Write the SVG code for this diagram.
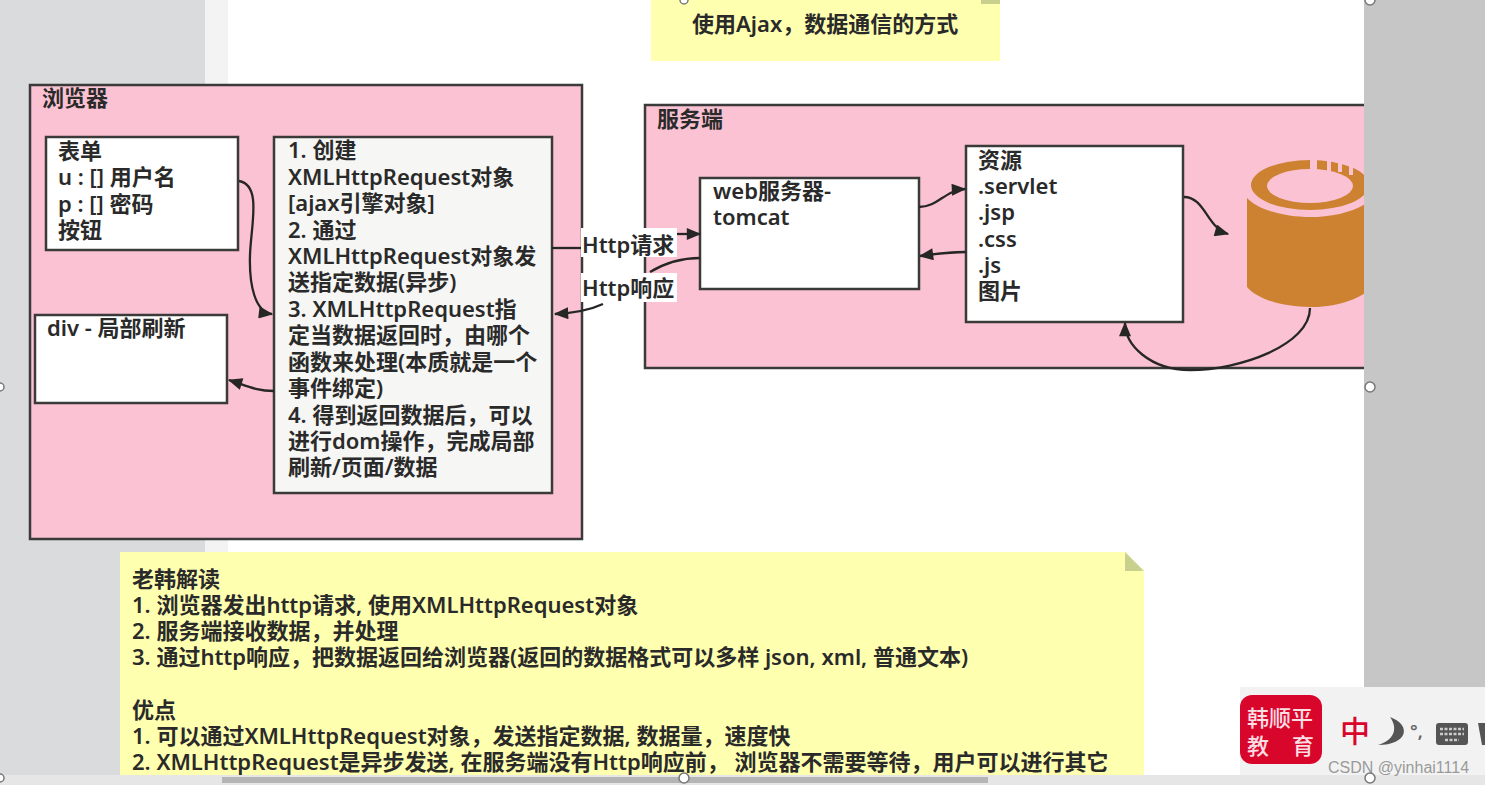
<svg xmlns="http://www.w3.org/2000/svg" width="1485" height="785" viewBox="0 0 1485 785">
<style>
text{font-family:"Noto Sans","Noto Sans CJK SC",sans-serif;font-size:22px;font-weight:600;fill:#2a2a2a}
.box{fill:#fff;stroke:#3a3a3a;stroke-width:2.5}
.group{fill:#fbc2d3;stroke:#3a3a3a;stroke-width:2.5}
.note{fill:#ffffb0}
.fold{fill:#c9cf8c}
.conn{fill:none;stroke:#262626;stroke-width:2.3}
.handle{fill:#fff;stroke:#777;stroke-width:1.5}
.logo-text{fill:#fbdde2;font-size:22px;font-weight:500}
</style>
<defs>
<marker id="arrow" viewBox="0 0 12 10" refX="11" refY="5" markerWidth="17" markerHeight="12" markerUnits="userSpaceOnUse" orient="auto"><path d="M0 0L12 5L0 10z" fill="#262626"/></marker>
<clipPath id="dbclip"><rect x="1240" y="150" width="124" height="170"/></clipPath>
</defs>
<g id="background">
<rect width="1485" height="785" fill="#fff"/>
<rect x="0" y="0" width="205" height="785" fill="#d9dbdd"/>
<rect x="205" y="0" width="23" height="785" fill="#f3f3f3"/>
</g>
<g id="top-note">
<rect class="note" x="651" y="0" width="349" height="61"/>
<rect class="fold" x="981" y="0" width="19" height="4"/>
<text x="692" y="32">使用Ajax，数据通信的方式</text>
</g>
<g id="browser">
<rect class="group" x="30" y="85" width="552" height="454"/>
<text x="42" y="106">浏览器</text>
</g>
<g id="form">
<rect class="box" x="46" y="137" width="192" height="113"/>
<text x="58" y="159">表单</text>
<text x="58" y="185">u : [] 用户名</text>
<text x="58" y="212">p : [] 密码</text>
<text x="58" y="238">按钮</text>
</g>
<g id="div-node">
<rect class="box" x="35" y="315" width="192" height="88"/>
<text x="47" y="336">div - 局部刷新</text>
</g>
<g id="engine">
<rect x="274" y="137" width="278" height="356" fill="#f6f6f4" stroke="#3a3a3a" stroke-width="2.5"/>
<text x="288" y="158">1. 创建</text>
<text x="288" y="185">XMLHttpRequest对象</text>
<text x="288" y="211">[ajax引擎对象]</text>
<text x="288" y="238">2. 通过</text>
<text x="288" y="264">XMLHttpRequest对象发</text>
<text x="288" y="290">送指定数据(异步)</text>
<text x="288" y="317">3. XMLHttpRequest指</text>
<text x="288" y="343">定当数据返回时，由哪个</text>
<text x="288" y="370">函数来处理(本质就是一个</text>
<text x="288" y="396">事件绑定)</text>
<text x="288" y="423">4. 得到返回数据后，可以</text>
<text x="288" y="449">进行dom操作，完成局部</text>
<text x="288" y="475">刷新/页面/数据</text>
</g>
<g id="server">
<rect class="group" x="645" y="105" width="725" height="263"/>
<text x="657" y="127">服务端</text>
</g>
<g id="web-server">
<rect class="box" x="700" y="178" width="219" height="111"/>
<text x="713" y="199">web服务器-</text>
<text x="713" y="225">tomcat</text>
</g>
<g id="resources">
<rect class="box" x="966" y="146" width="217" height="176"/>
<text x="978" y="168">资源</text>
<text x="978" y="194">.servlet</text>
<text x="978" y="220">.jsp</text>
<text x="978" y="247">.css</text>
<text x="978" y="273">.js</text>
<text x="978" y="299">图片</text>
</g>
<g id="database" clip-path="url(#dbclip)">
<path fill="#cc8230" d="M1247 198C1258 210 1285 217 1310 217C1335 217 1362 210 1372 198V287C1360 300 1335 307 1310 307C1285 307 1258 300 1247 287Z"/>
<path fill="#cc8230" fill-rule="evenodd" d="M1251 185a59 25 0 1 0 118 0a59 25 0 1 0 -118 0ZM1267 186a43 17 0 1 0 86 0a43 17 0 1 0 -86 0Z"/>
<g fill="#fbc2d3">
<rect x="1310" y="155" width="7" height="16"/>
<rect x="1327" y="155" width="4" height="16"/>
<rect x="1338" y="155" width="4" height="17"/>
<rect x="1349" y="155" width="4" height="20"/>
</g>
</g>
<g id="connectors">
<path class="conn" marker-end="url(#arrow)" d="M239 181C262 185 251 225 250 255C249 285 255 312 272 314"/>
<path class="conn" marker-end="url(#arrow)" d="M274 391C255 391 245 385 229 380"/>
<path class="conn" d="M552 248H582"/>
<path class="conn" marker-end="url(#arrow)" d="M677 234H700"/>
<path class="conn" d="M700 258C680 258 665 263 650 272"/>
<path class="conn" marker-end="url(#arrow)" d="M603 304C590 310 575 313 555 314"/>
<path class="conn" marker-end="url(#arrow)" d="M919 207C938 207 945 190 965 189"/>
<path class="conn" marker-end="url(#arrow)" d="M966 252C950 252 935 254 920 256"/>
<path class="conn" marker-end="url(#arrow)" d="M1184 197C1205 197 1207 228 1228 234"/>
<path class="conn" marker-end="url(#arrow)" d="M1310 308C1310 345 1240 370 1190 370C1150 370 1125 345 1125 323"/>
</g>
<g id="http-request">
<rect x="581" y="228" width="96" height="29" fill="#fff"/>
<text x="582" y="253">Http请求</text>
</g>
<g id="http-response">
<rect x="581" y="273" width="96" height="29" fill="#fff"/>
<text x="582" y="296">Http响应</text>
</g>
<g id="bottom-note">
<path class="note" d="M120 552H1125L1144 571V775H120Z"/>
<path class="fold" d="M1125 552L1144 571H1125Z"/>
<text x="132" y="587">老韩解读</text>
<text x="132" y="613">1. 浏览器发出http请求, 使用XMLHttpRequest对象</text>
<text x="132" y="639">2. 服务端接收数据，并处理</text>
<text x="132" y="665">3. 通过http响应，把数据返回给浏览器(返回的数据格式可以多样 json, xml, 普通文本)</text>
<text x="132" y="718">优点</text>
<text x="132" y="744">1. 可以通过XMLHttpRequest对象，发送指定数据, 数据量，速度快</text>
<text x="132" y="770">2. XMLHttpRequest是异步发送, 在服务端没有Http响应前， 浏览器不需要等待，用户可以进行其它</text>
</g>
<g id="window-edge">
<rect x="1364" y="0" width="121" height="690" fill="#c6c6c6"/>
<rect x="1240" y="687" width="245" height="90" fill="#f2f2f2"/>
<rect x="0" y="775" width="1485" height="10" fill="#e6e6e6"/>
<rect x="222" y="777" width="766" height="6" fill="#b5b5b5"/>
</g>
<g id="logo">
<rect x="1240" y="695" width="82" height="69" rx="12" fill="#d9062c"/>
<text class="logo-text" x="1247" y="726">韩顺平</text>
<text class="logo-text" x="1247" y="754">教</text>
<text class="logo-text" x="1292" y="754">育</text>
</g>
<g id="tray">
<text x="1340" y="742" style="fill:#d9062c;font-size:30px;font-weight:500">中</text>
<path d="M1390 717C1412 725 1408 745 1378 745C1395 740 1398 728 1390 717Z" fill="#555"/>
<text x="1410" y="738" style="fill:#666;font-size:18px">°,</text>
<rect x="1436" y="723" width="32" height="22" rx="3" fill="#555"/>
<path d="M1440 729h24M1440 734h24M1445 740h14" stroke="#ccc" stroke-width="2.5" stroke-dasharray="3 1.5"/>
<path d="M1478 723h7v22h-3z" fill="#555"/>
</g>
<g id="watermark">
<text x="1328" y="773" style="font-family:'Liberation Sans',sans-serif;font-size:16px;font-weight:400;fill:#9a9a9a">CSDN @yinhai1114</text>
</g>
<g id="handles">
<circle class="handle" cx="0" cy="387" r="4"/>
<circle class="handle" cx="1370" cy="387" r="5"/>
<circle class="handle" cx="1370" cy="0" r="5"/>
<circle class="handle" cx="1370" cy="778" r="5"/>
<circle class="handle" cx="684" cy="778" r="5"/>
<circle class="handle" cx="684" cy="0" r="4"/>
<circle class="handle" cx="0" cy="778" r="4"/>
</g>
</svg>
